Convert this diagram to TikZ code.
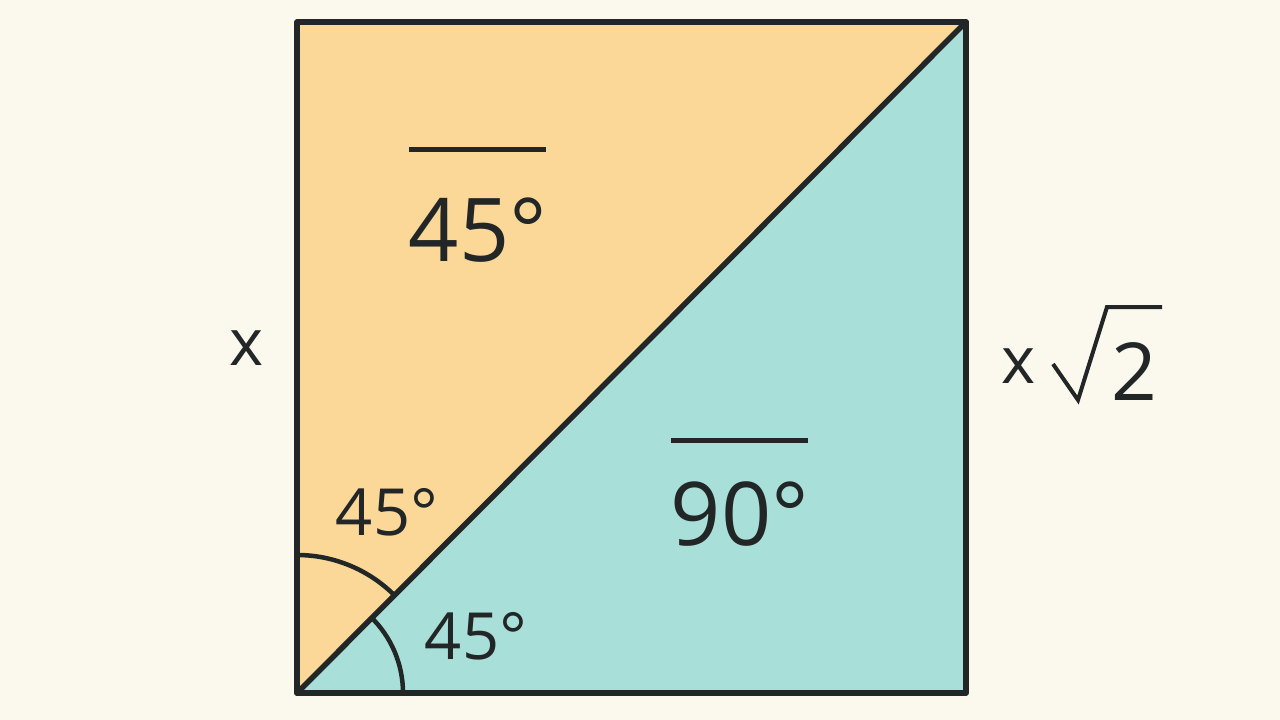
\documentclass[tikz,border=0pt]{standalone}
\usepackage{fontspec}
\setmainfont{Open Sans}
\definecolor{bg}{HTML}{FBF8EE}
\definecolor{orng}{HTML}{FCD898}
\definecolor{teal}{HTML}{A8DFD9}
\definecolor{ink}{HTML}{222626}
\tikzset{
  edge/.style={draw=ink, line width=5.5pt, line join=round, line cap=round},
  arcline/.style={draw=ink, line width=4.5pt},
  barline/.style={draw=ink, line width=5pt},
  lbl/.style={text=ink, inner sep=0pt, font=\fontsize{65}{70}\selectfont},
  biglbl/.style={text=ink, inner sep=0pt, font=\fontsize{88}{90}\selectfont},
}
\begin{document}
\begin{tikzpicture}[x=1pt,y=-1pt]
\fill[bg] (0,0) rectangle (1280,720);
\useasboundingbox (0,0) rectangle (1280,720);
\coordinate (bl) at (297,693);
\coordinate (br) at (966,693);
\coordinate (tr) at (966,22);
\coordinate (tl) at (297,22);
\fill[orng] (bl) -- (tl) -- (tr) -- cycle;
\fill[teal] (bl) -- (br) -- (tr) -- cycle;
% angle arcs
\draw[arcline] (297,555) arc[start angle=-90, end angle=-45, radius=138];
\draw[arcline] (403,693) arc[start angle=0, end angle=-46, radius=106];
\draw[edge] (bl) -- (tr);
\draw[edge] (tl) -- (tr) -- (br) -- (bl) -- cycle;
% labels
\node[lbl] (a1) at (387,512) {45°};
\node[lbl] (a2) at (476,636) {45°};
\node[biglbl] (t1) at (478,230) {45°};
\node[biglbl] (t2) at (740,514) {90°};
\coordinate (b1l) at (409,149); \coordinate (b1r) at (546,149);
\coordinate (b2l) at (671,440); \coordinate (b2r) at (808,440);
\draw[barline] (b1l) -- (b1r);
\draw[barline] (b2l) -- (b2r);
\node[lbl] (xl) at (247,348) {x};
\node[lbl] (xr) at (1019,366) {x};
\node[lbl, font=\fontsize{80}{80}\selectfont] (two) at (1134,372) {2};
\coordinate (r1) at (1053,364);
\coordinate (r2) at (1078,400);
\coordinate (r3) at (1107,307);
\coordinate (r4) at (1162,307);
\draw[draw=ink, line width=4pt, line join=miter] (r1) -- (r2) -- (r3) -- (r4);
\end{tikzpicture}
\end{document}
